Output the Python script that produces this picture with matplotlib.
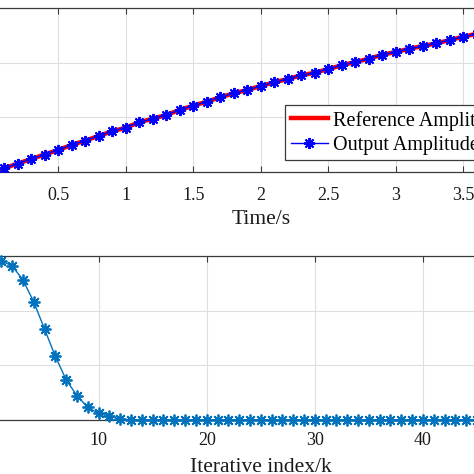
import numpy as np
import matplotlib
matplotlib.use("Agg")
import matplotlib.pyplot as plt

plt.rcParams['font.family'] = ['Liberation Serif', 'DejaVu Serif']

# ---- data ----
time_s = np.arange(41) / 10.0
ref_amp = [0.00, 0.068, 0.152, 0.236, 0.320, 0.402, 0.494, 0.573, 0.659, 0.744,
           0.810, 0.909, 0.973, 1.043, 1.134, 1.213, 1.286, 1.366, 1.440, 1.500,
           1.573, 1.641, 1.701, 1.769, 1.816, 1.884, 1.952, 2.012, 2.072, 2.146,
           2.195, 2.255, 2.305, 2.354, 2.414, 2.475, 2.530, 2.580, 2.630, 2.680,
           2.720]
out_amp = list(ref_amp)

iter_k = np.arange(1, 51)
iter_err = [2.91, 2.82, 2.56, 2.16, 1.66, 1.16, 0.73, 0.44, 0.225, 0.115,
            0.07, 0.01] + [0.0] * 38

top_xticks = [0, 0.5, 1, 1.5, 2, 2.5, 3, 3.5, 4]
top_xticklabels = ['0', '0.5', '1', '1.5', '2', '2.5', '3', '3.5', '4']
bot_xticks = [0, 10, 20, 30, 40, 50]

# ---- figure ----
W = 474.0
fig = plt.figure(figsize=(4.74, 4.74), dpi=100)
left = -9.5 / W
width = 540.5 / W
ax1 = fig.add_axes([left, (W - 172) / W, width, 164 / W])
ax2 = fig.add_axes([left, (W - 419.7) / W, width, 163.7 / W])

spine_col = '#3a3a3a'
grid_col = '#dedede'

def style(ax, pad):
    for s in ax.spines.values():
        s.set_color(spine_col)
        s.set_linewidth(0.9)
    ax.tick_params(direction='in', length=4, width=0.8, color=spine_col,
                   top=True, right=True, labelsize=13, pad=pad,
                   labelcolor='#1a1a1a')
    ax.grid(True, color=grid_col, linewidth=0.8)
    ax.set_axisbelow(True)

# top: amplitude tracking
ax1.plot(time_s, ref_amp, color='red', linewidth=3.2, label='Reference Amplitude',
         zorder=3)
ax1.plot(time_s, out_amp, color='blue', linewidth=1.0, marker=(8, 2, 0),
         markersize=8, markeredgewidth=1.4, label='Output Amplitude', zorder=4)
ax1.set_xlim(0, 4)
ax1.set_ylim(0, 3)
ax1.set_xticks(top_xticks)
ax1.set_xticklabels(top_xticklabels)
ax1.set_yticks([0, 1, 2, 3])
style(ax1, 11)
ax1.set_xlabel('Time/s', fontsize=15.5, labelpad=4, color='#1a1a1a')

leg = ax1.legend(loc='upper left', bbox_to_anchor=(285 / W, (W - 105) / W),
                 bbox_transform=fig.transFigure, borderaxespad=0,
                 fontsize=14.5, handlelength=1.85, handletextpad=0.25,
                 borderpad=0.28, labelspacing=0.25, fancybox=False,
                 framealpha=1, edgecolor=spine_col)
leg.get_frame().set_linewidth(0.9)

# bottom: iterative error
ax2.plot(iter_k, iter_err, color='#0072BD', linewidth=1.0, marker=(8, 2, 0),
         markersize=8.5, markeredgewidth=1.3, zorder=3, clip_on=False)
ax2.set_xlim(0, 50)
ax2.set_ylim(0, 3)
ax2.set_xticks(bot_xticks)
ax2.set_yticks([0, 1, 2, 3])
style(ax2, 9)
ax2.set_xlabel('Iterative index/k', fontsize=15.5, labelpad=6, color='#1a1a1a')

fig.savefig('out.png', dpi=100)
